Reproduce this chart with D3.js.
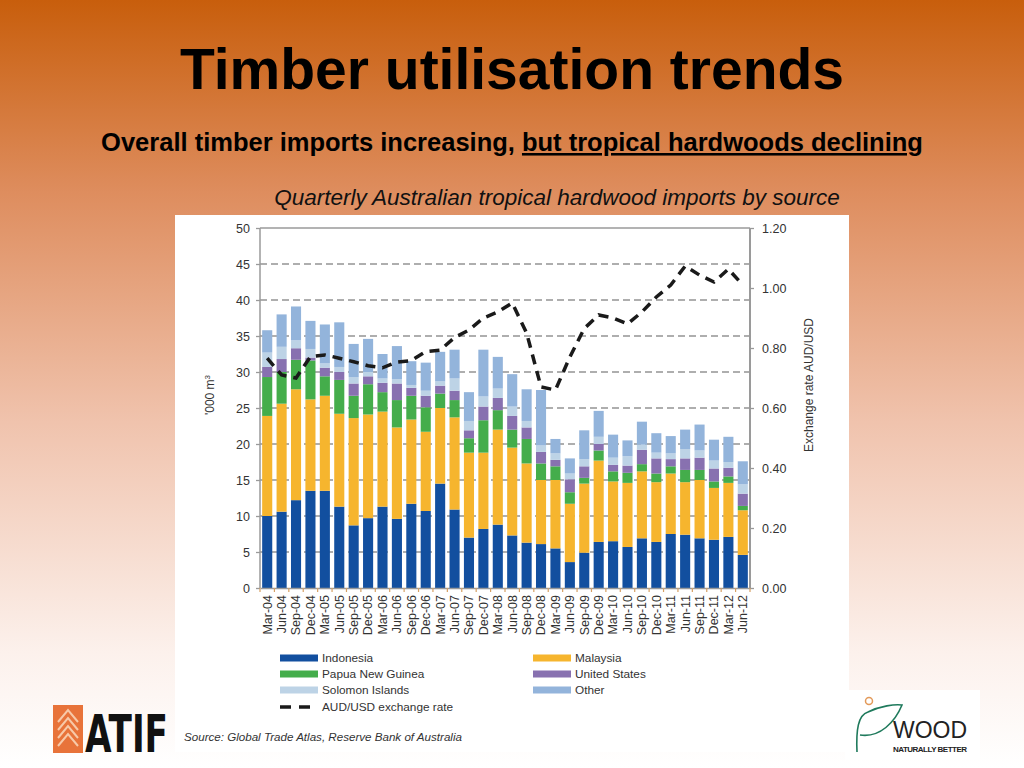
<!DOCTYPE html>
<html>
<head>
<meta charset="utf-8">
<script src="https://cdn.jsdelivr.net/npm/d3@7"></script>
<style>
  body { margin: 0; padding: 0; }
  svg { display: block; font-family: "Liberation Sans", Arial, sans-serif; }
</style>
</head>
<body>
<div id="slide"></div>
<script>
// quarterly data, '000 m3
var quarters = ["Mar-04","Jun-04","Sep-04","Dec-04","Mar-05","Jun-05","Sep-05","Dec-05",
  "Mar-06","Jun-06","Sep-06","Dec-06","Mar-07","Jun-07","Sep-07","Dec-07",
  "Mar-08","Jun-08","Sep-08","Dec-08","Mar-09","Jun-09","Sep-09","Dec-09",
  "Mar-10","Jun-10","Sep-10","Dec-10","Mar-11","Jun-11","Sep-11","Dec-11",
  "Mar-12","Jun-12"];

var indonesia = [10.0,10.6,12.2,13.5,13.5,11.3,8.7,9.7,11.3,9.6,11.7,10.7,14.5,10.9,7.0,8.2,
  8.8,7.3,6.3,6.1,5.5,3.6,4.9,6.4,6.5,5.7,6.9,6.4,7.5,7.4,6.9,6.7,7.1,4.6];
var malaysia = [13.9,15.0,15.4,12.7,13.2,12.9,14.9,14.4,13.2,12.7,11.7,11.0,10.5,12.8,11.8,10.6,
  13.2,12.2,11.0,8.9,9.5,8.1,9.6,11.3,8.3,8.9,9.3,8.3,8.4,7.3,8.1,7.2,7.5,6.2];
var png = [5.4,4.4,4.1,5.4,2.7,4.7,3.1,4.2,2.7,3.8,3.3,3.4,2.0,2.4,2.0,4.5,
  2.7,2.5,3.4,2.3,1.9,1.6,0.8,1.4,1.4,1.4,1.0,1.2,1.0,1.7,1.4,0.9,0.9,0.6];
var unitedStates = [1.4,1.8,1.6,0.4,1.2,1.1,1.7,1.1,1.3,2.3,1.1,1.6,1.1,1.3,1.1,1.9,
  1.7,1.9,1.6,1.6,0.9,1.8,1.6,0.9,0.9,1.0,2.0,2.1,1.0,1.6,1.7,1.8,1.2,1.7];
var solomon = [2.0,1.7,1.1,1.2,0.6,0.7,0.9,0.6,0.6,0.6,0.4,0.7,0.6,1.7,1.3,1.4,
  1.3,1.3,0.9,0.9,0.9,0.8,1.0,1.0,1.0,1.3,0.7,0.8,0.8,1.3,1.0,1.1,0.8,1.3];
var other = [3.1,4.5,4.7,3.9,5.4,6.2,4.6,4.6,3.4,4.6,3.3,3.9,4.1,4.0,4.0,6.5,
  4.4,4.5,4.4,7.7,2.0,2.1,4.0,3.6,3.2,2.2,3.2,2.7,2.4,2.7,3.6,2.9,3.5,3.2];
var audusd = [0.766,0.71,0.70,0.771,0.777,0.766,0.754,0.741,0.734,0.753,0.758,0.788,0.793,0.835,
  0.86,0.90,0.92,0.95,0.85,0.67,0.66,0.77,0.865,0.91,0.90,0.88,0.92,0.97,1.01,1.073,
  1.043,1.02,1.063,1.01];

var seriesKeys = ["Indonesia","Malaysia","Papua New Guinea","United States","Solomon Islands","Other"];
var seriesVals = [indonesia, malaysia, png, unitedStates, solomon, other];
var seriesCols = ["#124f9f","#f6b52e","#44ad4b","#8871b0","#bdd3e6","#93b4db"];

var leftTicks = [0,5,10,15,20,25,30,35,40,45,50];
var rightTicks = [0,0.2,0.4,0.6,0.8,1.0,1.2];

var W = 1024, H = 768;
var svg = d3.select("#slide").append("svg").attr("width", W).attr("height", H);

// background gradient
var defs = svg.append("defs");
var grad = defs.append("linearGradient").attr("id","bg").attr("x1",0).attr("y1",0).attr("x2",0).attr("y2",1);
grad.append("stop").attr("offset","0%").attr("stop-color","#c85e0c");
grad.append("stop").attr("offset","25%").attr("stop-color","#de8d5e");
grad.append("stop").attr("offset","55%").attr("stop-color","#f0c3ad");
grad.append("stop").attr("offset","85%").attr("stop-color","#fcf1ec");
grad.append("stop").attr("offset","100%").attr("stop-color","#ffffff");
svg.append("rect").attr("width",W).attr("height",H).attr("fill","url(#bg)");

// titles
svg.append("text").attr("x",512).attr("y",89).attr("text-anchor","middle")
  .style("font-size","57px").style("font-weight","bold").attr("fill","#000")
  .text("Timber utilisation trends");

var sub = svg.append("text").attr("x",512).attr("y",151).attr("text-anchor","middle")
  .style("font-size","25.5px").style("font-weight","bold").attr("fill","#000");
sub.append("tspan").text("Overall timber imports increasing, ");
sub.append("tspan").attr("text-decoration","underline").text("but tropical hardwoods declining");

svg.append("text").attr("x",557).attr("y",205).attr("text-anchor","middle")
  .style("font-size","22.5px").style("font-style","italic").attr("fill","#111")
  .text("Quarterly Australian tropical hardwood imports by source");

// white chart panel
svg.append("rect").attr("x",175).attr("y",215).attr("width",674).attr("height",537).attr("fill","#fff");

var margin = {left: 260, right: 750, top: 228, bottom: 588};

var x = d3.scaleBand().domain(quarters).range([margin.left, margin.right]).paddingInner(0.3).paddingOuter(0.15);
var y = d3.scaleLinear().domain([0,50]).range([margin.bottom, margin.top]);
var y2 = d3.scaleLinear().domain([0,1.2]).range([margin.bottom, margin.top]);

var chart = svg.append("g");

// gridlines
chart.append("g").selectAll("line").data(leftTicks.filter(function(d){ return d > 0 && d < 50; }))
  .enter().append("line")
  .attr("x1", margin.left).attr("x2", margin.right)
  .attr("y1", function(d){ return y(d); }).attr("y2", function(d){ return y(d); })
  .attr("stroke","#949494").attr("stroke-width",1.4).attr("stroke-dasharray","7,4");

// stacked bars
var rows = quarters.map(function(q, i) {
  var r = {q: q};
  seriesKeys.forEach(function(k, j){ r[k] = seriesVals[j][i]; });
  return r;
});
var stacked = d3.stack().keys(seriesKeys)(rows);

chart.append("g").selectAll("g").data(stacked).enter().append("g")
  .attr("fill", function(d, i){ return seriesCols[i]; })
  .selectAll("rect").data(function(d){ return d; }).enter().append("rect")
  .attr("x", function(d){ return x(d.data.q); })
  .attr("width", x.bandwidth())
  .attr("y", function(d){ return y(d[1]); })
  .attr("height", function(d){ return y(d[0]) - y(d[1]); });

// exchange rate line
var line = d3.line()
  .x(function(d, i){ return x(quarters[i]) + x.bandwidth()/2; })
  .y(function(d){ return y2(d); });
chart.append("path").datum(audusd).attr("d", line)
  .attr("fill","none").attr("stroke","#1a1a1a").attr("stroke-width",3.5)
  .attr("stroke-dasharray","10,7");

// axes frame
chart.append("line").attr("x1",margin.left).attr("x2",margin.right).attr("y1",margin.top).attr("y2",margin.top)
  .attr("stroke","#9a9a9a").attr("stroke-width",1.5);
chart.append("line").attr("x1",margin.left).attr("x2",margin.left).attr("y1",margin.top).attr("y2",margin.bottom)
  .attr("stroke","#9a9a9a").attr("stroke-width",1.5);
chart.append("line").attr("x1",margin.right).attr("x2",margin.right).attr("y1",margin.top).attr("y2",margin.bottom)
  .attr("stroke","#9a9a9a").attr("stroke-width",2);

var leftAxis = chart.append("g").attr("transform","translate(" + margin.left + ",0)")
  .call(d3.axisLeft(y).tickValues(leftTicks).tickSize(4).tickPadding(6));
var rightAxis = chart.append("g").attr("transform","translate(" + margin.right + ",0)")
  .call(d3.axisRight(y2).tickValues(rightTicks).tickSize(4).tickPadding(8).tickFormat(d3.format(".2f")));
[leftAxis, rightAxis].forEach(function(a) {
  a.select(".domain").remove();
  a.selectAll("line").attr("stroke","#9a9a9a").attr("stroke-width",1.3);
  a.selectAll("text").style("font-size","12.5px").style("font-family","Liberation Sans, Arial, sans-serif").attr("fill","#333");
});

// bottom axis
var bottomAxis = chart.append("g").attr("transform","translate(0," + margin.bottom + ")")
  .call(d3.axisBottom(x).tickSize(0).tickPadding(0));
bottomAxis.select(".domain").attr("stroke","#9a9a9a").attr("stroke-width",1.5);
bottomAxis.selectAll("text")
  .style("font-size","12.5px").style("font-family","Liberation Sans, Arial, sans-serif").attr("fill","#333")
  .attr("transform","rotate(-90)").attr("x",-7).attr("y",0).attr("dy","0.35em")
  .attr("text-anchor","end");
// small tick marks between bars
var step = x.step();
chart.append("g").selectAll("line").data(d3.range(quarters.length + 1)).enter().append("line")
  .attr("x1", function(i){ return margin.left + step * 0.15 - step * 0.15 + i * step + (i === 0 ? 0 : 0); })
  .attr("x2", function(i){ return margin.left + i * step; })
  .attr("x1", function(i){ return margin.left + i * step; })
  .attr("y1", margin.bottom).attr("y2", margin.bottom + 4)
  .attr("stroke","#d6a064").attr("stroke-width",1.2);

// axis titles
svg.append("text").attr("transform","translate(214,395) rotate(-90)").attr("text-anchor","middle")
  .style("font-size","12px").attr("fill","#333")
  .html("'000 m<tspan baseline-shift='super' style='font-size:8px'>3</tspan>");
svg.append("text").attr("transform","translate(813,385) rotate(-90)").attr("text-anchor","middle")
  .style("font-size","12px").attr("fill","#333").text("Exchange rate AUD/USD");

// legend
var legendItems = [
  {name: "Indonesia", col: seriesCols[0], cx: 280, cy: 658},
  {name: "Malaysia", col: seriesCols[1], cx: 533, cy: 658},
  {name: "Papua New Guinea", col: seriesCols[2], cx: 280, cy: 674},
  {name: "United States", col: seriesCols[3], cx: 533, cy: 674},
  {name: "Solomon Islands", col: seriesCols[4], cx: 280, cy: 690},
  {name: "Other", col: seriesCols[5], cx: 533, cy: 690}
];
var leg = svg.append("g");
leg.selectAll("rect").data(legendItems).enter().append("rect")
  .attr("x", function(d){ return d.cx; }).attr("y", function(d){ return d.cy - 3.5; })
  .attr("width", 38).attr("height", 7).attr("fill", function(d){ return d.col; });
leg.selectAll("text").data(legendItems).enter().append("text")
  .attr("x", function(d){ return d.cx + 42; }).attr("y", function(d){ return d.cy; })
  .attr("dy","0.36em").style("font-size","11.8px").attr("fill","#333")
  .text(function(d){ return d.name; });
leg.append("line").attr("x1",280).attr("x2",311).attr("y1",707).attr("y2",707)
  .attr("stroke","#1a1a1a").attr("stroke-width",3.5).attr("stroke-dasharray","11,8");
leg.append("text").attr("x",322).attr("y",707).attr("dy","0.36em").style("font-size","11.8px")
  .attr("fill","#333").text("AUD/USD exchange rate");

svg.append("text").attr("x",184).attr("y",741).style("font-size","11.6px").style("font-style","italic")
  .attr("fill","#333").text("Source: Global Trade Atlas, Reserve Bank of Australia");

// ATIF logo
var atif = svg.append("g");
atif.append("rect").attr("x",53).attr("y",705).attr("width",30).attr("height",48).attr("fill","#e8733a");
[0,8,16,24].forEach(function(o){
  atif.append("path").attr("d","M58," + (722 + o) + " L68," + (710 + o) + " L78," + (722 + o))
    .attr("fill","none").attr("stroke","#f7c9a8").attr("stroke-width",2);
});
atif.append("text").attr("x",85).attr("y",752).style("font-size","52px").style("font-weight","bold")
  .style("font-family","Liberation Sans Narrow, DejaVu Sans Condensed, sans-serif")
  .attr("textLength",83).attr("lengthAdjust","spacingAndGlyphs").attr("fill","#111").text("ATIF");

// WOOD logo
var wood = svg.append("g");
wood.append("rect").attr("x",845).attr("y",690).attr("width",135).attr("height",70).attr("fill","#fff");
wood.append("circle").attr("cx",869).attr("cy",701).attr("r",3.5).attr("fill","none").attr("stroke","#e39a5a").attr("stroke-width",1.5);
wood.append("path").attr("d","M857,752 C856,730 858,715 868,712 C880,706 895,704 902,705 C895,722 880,738 860,735")
  .attr("fill","none").attr("stroke","#1f7a5c").attr("stroke-width",1.6);
wood.append("text").attr("x",893).attr("y",738).style("font-size","23px").attr("fill","#222").text("WOOD");
wood.append("text").attr("x",893).attr("y",752).style("font-size","8px").style("font-weight","bold")
  .attr("textLength",74).attr("fill","#222").text("NATURALLY BETTER");
</script>
</body>
</html>
